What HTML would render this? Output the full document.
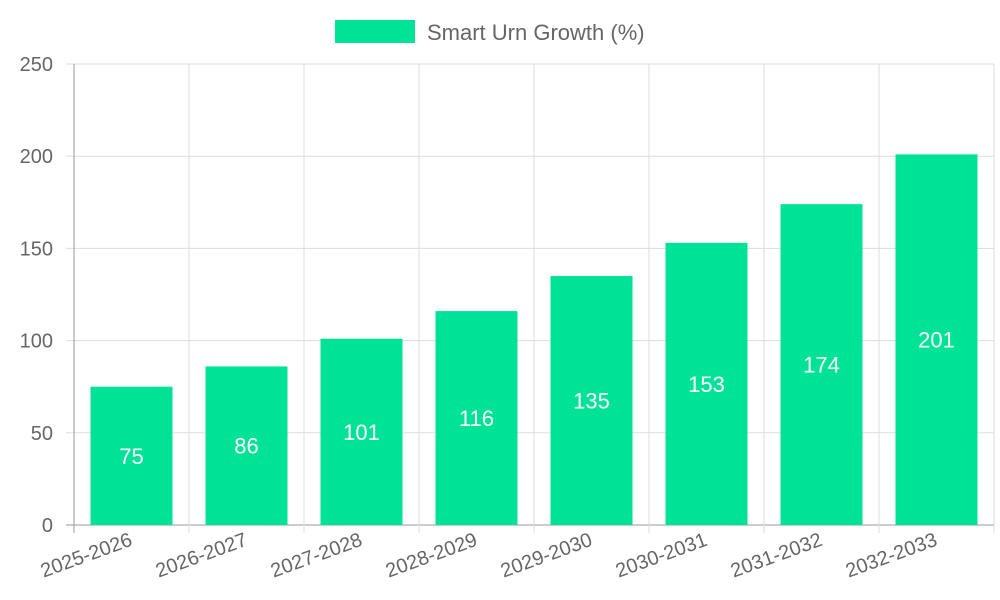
<!DOCTYPE html>
<html><head><meta charset="utf-8"><style>
html,body{margin:0;padding:0;background:#fff;}
svg{display:block;font-family:"Liberation Sans",sans-serif;}
</style></head><body>
<svg id="chart" width="1000" height="600" viewBox="0 0 1000 600">
<g id="legend">
<rect x="335" y="20" width="80" height="23" fill="#00e396"></rect>
<text x="427" y="40" font-size="22" fill="#666">Smart Urn Growth (%)</text>
</g>
<g id="grid"></g><g id="bars"></g><g id="labels"></g>
</svg>
<script>
const categories=["2025-2026","2026-2027","2027-2028","2028-2029","2029-2030","2030-2031","2031-2032","2032-2033"];
const values=[75,86,101,116,135,153,174,201];
const yTicks=[0,50,100,150,200,250];
const NS="http://www.w3.org/2000/svg";
const L=74,R=994,T=64,B=525,yMax=250;
const bw=(R-L)/categories.length;
const y=v=>B-(v/yMax)*(B-T);
const xc=i=>L+bw*(i+0.5);
function mk(tag,attrs,parent,text){const e=document.createElementNS(NS,tag);for(const k in attrs)e.setAttribute(k,attrs[k]);if(text!==undefined)e.textContent=text;parent.appendChild(e);return e;}
const g=document.getElementById('grid'),gb=document.getElementById('bars'),gl=document.getElementById('labels');
yTicks.forEach(t=>{
 const ln=mk('line',{x1:66,x2:R,y1:y(t),y2:y(t),stroke:t===0?'#999':'#ddd','stroke-width':1},g);
 
 
 const tx=mk('text',{x:53,y:y(t)+7,'text-anchor':'end','font-size':20,fill:'#666'},g,String(t));
 
 
});
for(let i=0;i<=categories.length;i++){
 const x=L+bw*i;
 const ln=mk('line',{x1:x,x2:x,y1:T,y2:533,stroke:i===0?'#999':'#ddd','stroke-width':1},g);
 
 
}
categories.forEach((c,i)=>{
 const w=82;
 const r=mk('rect',{x:xc(i)-w/2,y:y(values[i]),width:w,height:B-y(values[i]),fill:'#00e396'},gb);
 
 
 const v=mk('text',{x:xc(i),y:(y(values[i])+B)/2+8,'text-anchor':'middle','font-size':22,fill:'#fff'},gl,String(values[i]));
 
 
 const cx=xc(i)+2,cy=545;
 const t=mk('text',{x:cx,y:cy,'text-anchor':'end','font-size':20,fill:'#666',transform:`rotate(-20 ${cx} ${cy})`},gl,c);
 
 
});
</script>
</body></html>
